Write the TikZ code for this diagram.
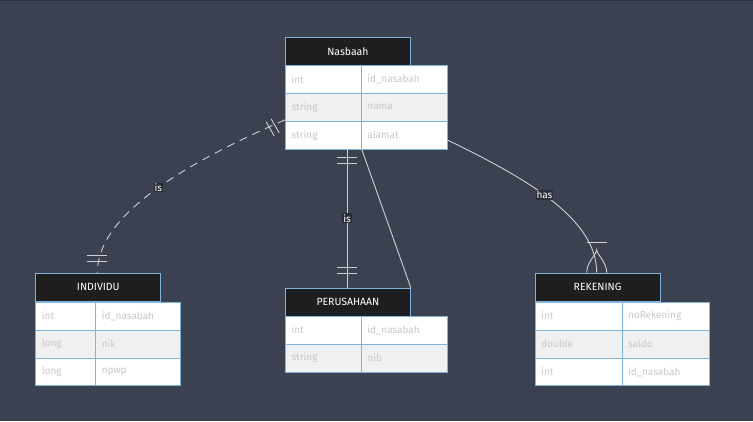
\documentclass[tikz,border=0pt]{standalone}
\usepackage{fontspec}
\setmainfont{Fira Sans}
\begin{document}
\begin{tikzpicture}[x=1pt,y=-1pt,
  hdr/.style={draw=blue!30!cyan!40!white,line width=0.8pt,fill=hdrc,text=white,minimum height=28pt,minimum width=125pt,inner sep=0pt,anchor=north west,font=\fontsize{10.5}{12}\selectfont},
  cellA/.style={draw=cellb,line width=0.8pt,fill=white,text=txtc,minimum height=28pt,inner sep=0pt,anchor=north west,text width=#1-12pt,align=left,minimum width=#1,font=\fontsize{10}{12}\selectfont},
  cellB/.style={cellA=#1,fill=rowb},
  rel/.style={draw=relc,line width=0.9pt},
  lbl/.style={fill=lblc,text=white,inner sep=1pt,font=\fontsize{10}{12}\selectfont}]
\definecolor{bgc}{HTML}{3B4150}
\definecolor{hdrc}{HTML}{1E1E1E}
\definecolor{cellb}{HTML}{7FB2DC}
\definecolor{rowb}{HTML}{F0F0F0}
\definecolor{txtc}{HTML}{C8C8C8}
\definecolor{relc}{HTML}{D0D0D0}
\definecolor{lblc}{HTML}{2A2E38}
\tikzset{hdr/.append style={draw=cellb}}
\fill[bgc] (0,0) rectangle (753,422);
\draw[hdrc!50!bgc,line width=1pt] (0,0.5)--(753,0.5);
% Nasbaah
\node[hdr] (n) at (285,37) {Nasbaah};
\node[cellA=76pt] (n1a) at (285,65) {int};
\node[cellA=86pt] (n1b) at (361,65) {id\_nasabah};
\node[cellB=76pt] (n2a) at (285,93) {string};
\node[cellB=86pt] (n2b) at (361,93) {nama};
\node[cellA=76pt] (n3a) at (285,121) {string};
\node[cellA=86pt] (n3b) at (361,121) {alamat};
% INDIVIDU
\node[hdr] (i) at (35,273) {INDIVIDU};
\node[cellA=60pt] (i1a) at (35,302) {int};
\node[cellA=85pt] (i1b) at (95,302) {id\_nasabah};
\node[cellB=60pt] (i2a) at (35,330) {long};
\node[cellB=85pt] (i2b) at (95,330) {nik};
\node[cellA=60pt] (i3a) at (35,358) {long};
\node[cellA=85pt] (i3b) at (95,358) {npwp};
% PERUSAHAAN
\node[hdr] (p) at (285,288) {PERUSAHAAN};
\node[cellA=76pt] (p1a) at (285,316) {int};
\node[cellA=86pt] (p1b) at (361,316) {id\_nasabah};
\node[cellB=76pt] (p2a) at (285,344) {string};
\node[cellB=86pt] (p2b) at (361,344) {nib};
% REKENING
\node[hdr] (r) at (535,273) {REKENING};
\node[cellA=87pt] (r1a) at (535,302) {int};
\node[cellA=87pt] (r1b) at (622,302) {noRekening};
\node[cellB=87pt] (r2a) at (535,330) {double};
\node[cellB=87pt] (r2b) at (622,330) {saldo};
\node[cellA=87pt] (r3a) at (535,358) {int};
\node[cellA=87pt] (r3b) at (622,358) {id\_nasabah};
% relations
\coordinate (a1) at (285,120);
\coordinate (a2) at (97,273);
\draw[rel,dash pattern=on 8pt off 6pt] (a1) .. controls (170,170) and (97,220) .. (a2)
  node[pos=0.45,lbl] {is};
\draw[rel] (266,122)--(274,136) (271,119)--(279,133);
\draw[rel] (87,256)--(107,256) (87,262)--(107,262);
\draw[rel] (n3a.south east) -- (p.north east |- p.north) coordinate (tmp);
\coordinate (m1) at (347,149);
\coordinate (m2) at (347,288);
\draw[rel] (m1) -- (m2) node[midway,lbl] {is};
\draw[rel] (337,158)--(357,158) (337,164)--(357,164) (337,268)--(357,268) (337,274)--(357,274);
\coordinate (b1) at (447,140);
\coordinate (b2) at (597,273);
\draw[rel] (b1) .. controls (530,180) and (597,220) .. (b2) node[pos=0.45,lbl] {has};
\draw[rel] (587,243)--(607,243);
\draw[rel] (587,273) .. controls (587,262) and (597,255) .. (597,250) .. controls (597,255) and (607,262) .. (607,273);
\end{tikzpicture}
\end{document}
